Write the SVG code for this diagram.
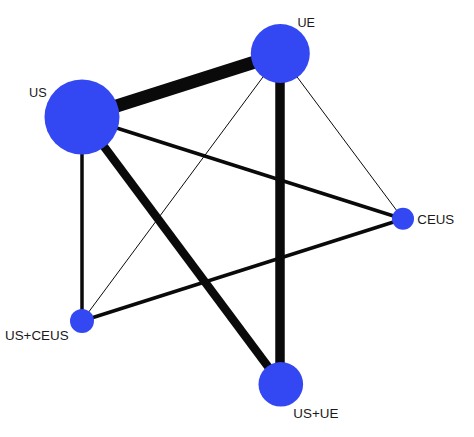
<svg xmlns="http://www.w3.org/2000/svg" width="474" height="437" viewBox="0 0 474 437">
<style>
.node{fill:#3347f2}
.lbl{font-family:"Liberation Sans",Arial,sans-serif;fill:#1a1a1a}
.edge{stroke:#0a0a0a;fill:none;stroke-linecap:butt}
</style>
<rect width="474" height="437" fill="#ffffff"/>
<g id="connectors">
<line class="edge" x1="82" y1="117" x2="280" y2="54" stroke-width="13"/>
<line class="edge" x1="280" y1="54" x2="280" y2="384" stroke-width="9.5"/>
<line class="edge" x1="82" y1="117" x2="281" y2="384" stroke-width="8.5"/>
<line class="edge" x1="82" y1="117" x2="403" y2="219" stroke-width="3.5"/>
<line class="edge" x1="82" y1="117" x2="82" y2="321" stroke-width="3.5"/>
<line class="edge" x1="82" y1="321" x2="403" y2="219" stroke-width="3.5"/>
<line class="edge" x1="280" y1="54" x2="82" y2="321" stroke-width="1"/>
<line class="edge" x1="280" y1="54" x2="403" y2="219" stroke-width="1"/>
</g>
<g id="node-US">
<circle class="node" cx="82" cy="117" r="37.5"/>
<text class="lbl" x="29" y="96.7" font-size="12.7">US</text>
</g>
<g id="node-UE">
<circle class="node" cx="280.3" cy="53.5" r="29.5"/>
<text class="lbl" x="297.5" y="26.7" font-size="12.6">UE</text>
</g>
<g id="node-CEUS">
<circle class="node" cx="403" cy="218.7" r="11"/>
<text class="lbl" x="417.3" y="224" font-size="13.3">CEUS</text>
</g>
<g id="node-US-CEUS">
<circle class="node" cx="82" cy="321" r="12"/>
<text class="lbl" x="5" y="340" font-size="13.4">US+CEUS</text>
</g>
<g id="node-US-UE">
<circle class="node" cx="280.8" cy="384.3" r="22.3"/>
<text class="lbl" x="293.3" y="417.7" font-size="13.4">US+UE</text>
</g>
</svg>
